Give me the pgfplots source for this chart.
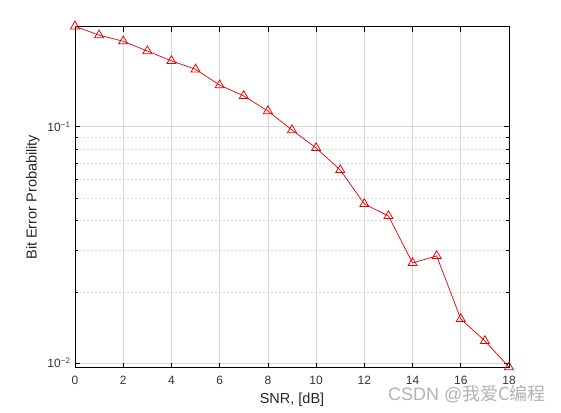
\documentclass[border=0pt]{standalone}
\usepackage{pgfplots}
\pgfplotsset{compat=1.18}
\usepackage{fontspec}
\setmainfont{Liberation Sans}
\newfontfamily\cjk{Noto Sans CJK SC}
\begin{document}
\begin{tikzpicture}[x=1pt,y=1pt]
\begin{axis}[
  scale only axis,
  width=434pt, height=341pt,
  ymode=log,
  xmin=0, xmax=18,
  ymin=0.00955, ymax=0.265,
  xtick={0,2,...,18},
  ytick={0.01,0.1},
  yticklabels={10\textsuperscript{−2},10\textsuperscript{−1}},
  tick align=inside,
  xtick pos=both, ytick pos=both,
  major tick length=5pt, minor tick length=3pt,
  grid=both,
  major grid style={draw=black!15, line width=0.6pt},
  minor grid style={draw=black!15, dash pattern=on 2pt off 2pt, line width=0.5pt},
  axis line style={line width=0.7pt},
  every tick/.style={black, line width=0.6pt},
  tick label style={font=\fontsize{12}{14}\selectfont, text=black!80},
  xticklabel style={yshift=-5pt},
  yticklabel style={xshift=-1pt},
  label style={font=\fontsize{14.5}{16}\selectfont, text=black!85},
  xlabel={SNR, [dB]},
  ylabel={Bit Error Probability},
  xlabel style={yshift=-1pt},
  ylabel style={yshift=1pt},
  /pgf/number format/assume math mode=true,
  clip=false,
]
\addplot[color=red!90!black, line width=0.7pt, mark=triangle, mark size=5.2pt, mark options={solid, line width=0.75pt}]
coordinates {
(0,0.266) (1,0.244) (2,0.230) (3,0.209) (4,0.190) (5,0.175) (6,0.150)
(7,0.135) (8,0.1165) (9,0.0968) (10,0.0813) (11,0.0656) (12,0.0471)
(13,0.0419) (14,0.0265) (15,0.0284) (16,0.01535) (17,0.0124) (18,0.0096)
};
\end{axis}
\node[anchor=base east, text=black!30, font=\fontsize{18}{20}\selectfont, inner sep=0pt] at ([shift={(37pt,-33pt)}]current axis.south east) {CSDN @{\cjk 我爱C编程}};
\path ([shift={(-75pt,-45pt)}]current axis.south west) rectangle ([shift={(52pt,26.7pt)}]current axis.north east);
\end{tikzpicture}
\end{document}
